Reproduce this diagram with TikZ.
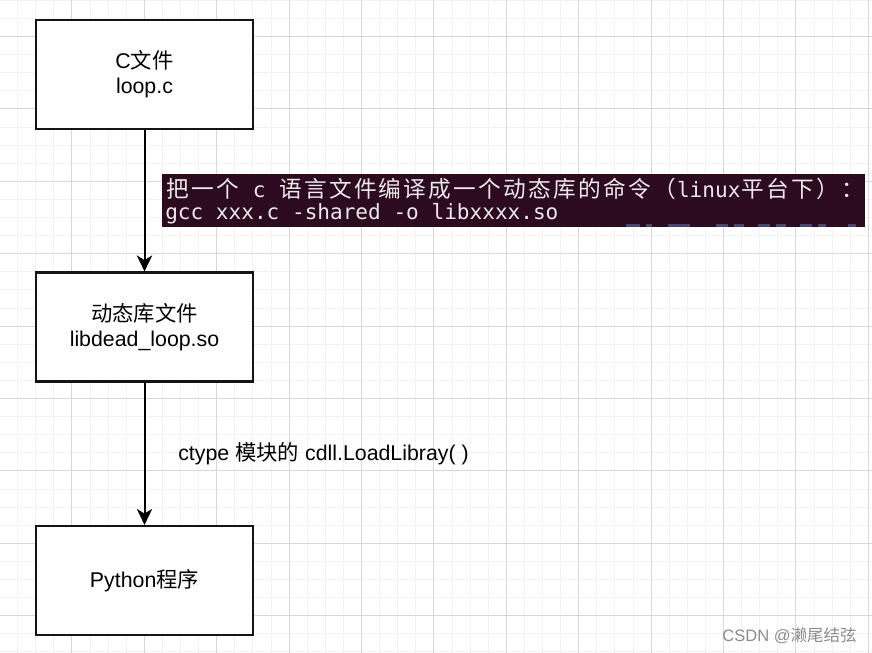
\documentclass[tikz,border=0pt]{standalone}
\usepackage{fontspec}
\setmainfont{Liberation Sans}
\newfontfamily\cjk{Noto Sans CJK SC}
\newfontfamily\termmono{DejaVu Sans Mono}
\usetikzlibrary{arrows.meta}
\definecolor{termbg}{HTML}{2C0B21}
\definecolor{termfg}{HTML}{ECE8EA}
\definecolor{minorg}{HTML}{F3F3F3}
\definecolor{majorg}{HTML}{D7D7D7}
\definecolor{wmark}{HTML}{8C8C8C}
\definecolor{fragblue}{HTML}{6F8FD6}
\newcommand\zz[1]{\makebox[18.7pt][c]{\cjk\fontsize{17pt}{18pt}\selectfont #1}}
\tikzset{
  minorline/.style={draw=minorg, line width=0.75pt},
  majorline/.style={draw=majorg, line width=0.75pt},
  boxnode/.style={draw=black!92, line width=1.6pt, fill=white, minimum width=162.75pt, minimum height=81.75pt, align=center, inner sep=0pt, font=\fontsize{16pt}{19pt}\selectfont},
  arr/.style={draw=black, line width=1.5pt, -{Stealth[length=12pt, width=11.5pt, inset=3.5pt]}},
  termtext/.style={text=termfg, inner sep=0pt, anchor=base west, font=\termmono\fontsize{15.8pt}{18pt}\selectfont},
  lbl/.style={inner sep=0pt, anchor=base west, font=\fontsize{16pt}{19pt}\selectfont},
}
\begin{document}
\begin{tikzpicture}[x=0.75pt, y=-0.75pt]
\useasboundingbox (0,0) rectangle (872,653);
\fill[white] (0,0) rectangle (872,653);
% grid (snapped to pixel centres)
\foreach \i in {0,...,49} {
  \pgfmathsetmacro\gx{round(-1+18.1*\i)+0.5}
  \draw[minorline] (\gx,0) -- (\gx,653);
}
\foreach \j in {0,...,37} {
  \pgfmathsetmacro\gy{round(-0.2+18.1*\j)+0.5}
  \draw[minorline] (0,\gy) -- (872,\gy);
}
\foreach \i in {0,...,12} {
  \pgfmathsetmacro\gx{round(-1+72.4*\i)+0.5}
  \draw[majorline] (\gx,0) -- (\gx,653);
}
\foreach \j in {0,...,9} {
  \pgfmathsetmacro\gy{round(36+72.4*\j)+0.5}
  \draw[majorline] (0,\gy) -- (872,\gy);
}
% boxes
\node[boxnode] (cfile) at (144.5,74.5) {C{\cjk 文件}\\loop.c};
\node[boxnode] (sofile) at (144.5,327) {{\cjk 动态库文件}\\libdead\_loop.so};
\node[boxnode] (py) at (144.5,580.5) {Python{\cjk 程序}};
% arrows
\draw[arr] (cfile) -- (sofile);
\draw[arr] (sofile) -- (py);
% terminal screenshot
\fill[termbg] (162,174) rectangle (865,226.5);
\foreach \a/\b in {626/640, 646/652, 668/690, 716/728, 734/744, 758/770, 776/786, 800/812, 818/826, 848/856} {
  \fill[fragblue, opacity=0.45] (\a,224) rectangle (\b,226.5);
}
\node[termtext] (term1) at (165,197) {\zz{把}\zz{一}\zz{个} c \zz{语}\zz{言}\zz{文}\zz{件}\zz{编}\zz{译}\zz{成}\zz{一}\zz{个}\zz{动}\zz{态}\zz{库}\zz{的}\zz{命}\zz{令}\zz{（}linux\zz{平}\zz{台}\zz{下}\zz{）}\zz{：}};
\node[termtext] (term2) at (165,219.5) {gcc xxx.c -shared -o libxxxx.so};
% edge label
\node[lbl] (loadlbl) at (178,460.5) {ctype {\cjk 模块的} cdll.LoadLibray( )};
% watermark
\node[text=wmark, inner sep=0pt, anchor=base east, font=\fontsize{12.4pt}{14pt}\selectfont] (wm) at (857,641) {CSDN @{\cjk 濑尾结弦}};
\end{tikzpicture}
\end{document}
